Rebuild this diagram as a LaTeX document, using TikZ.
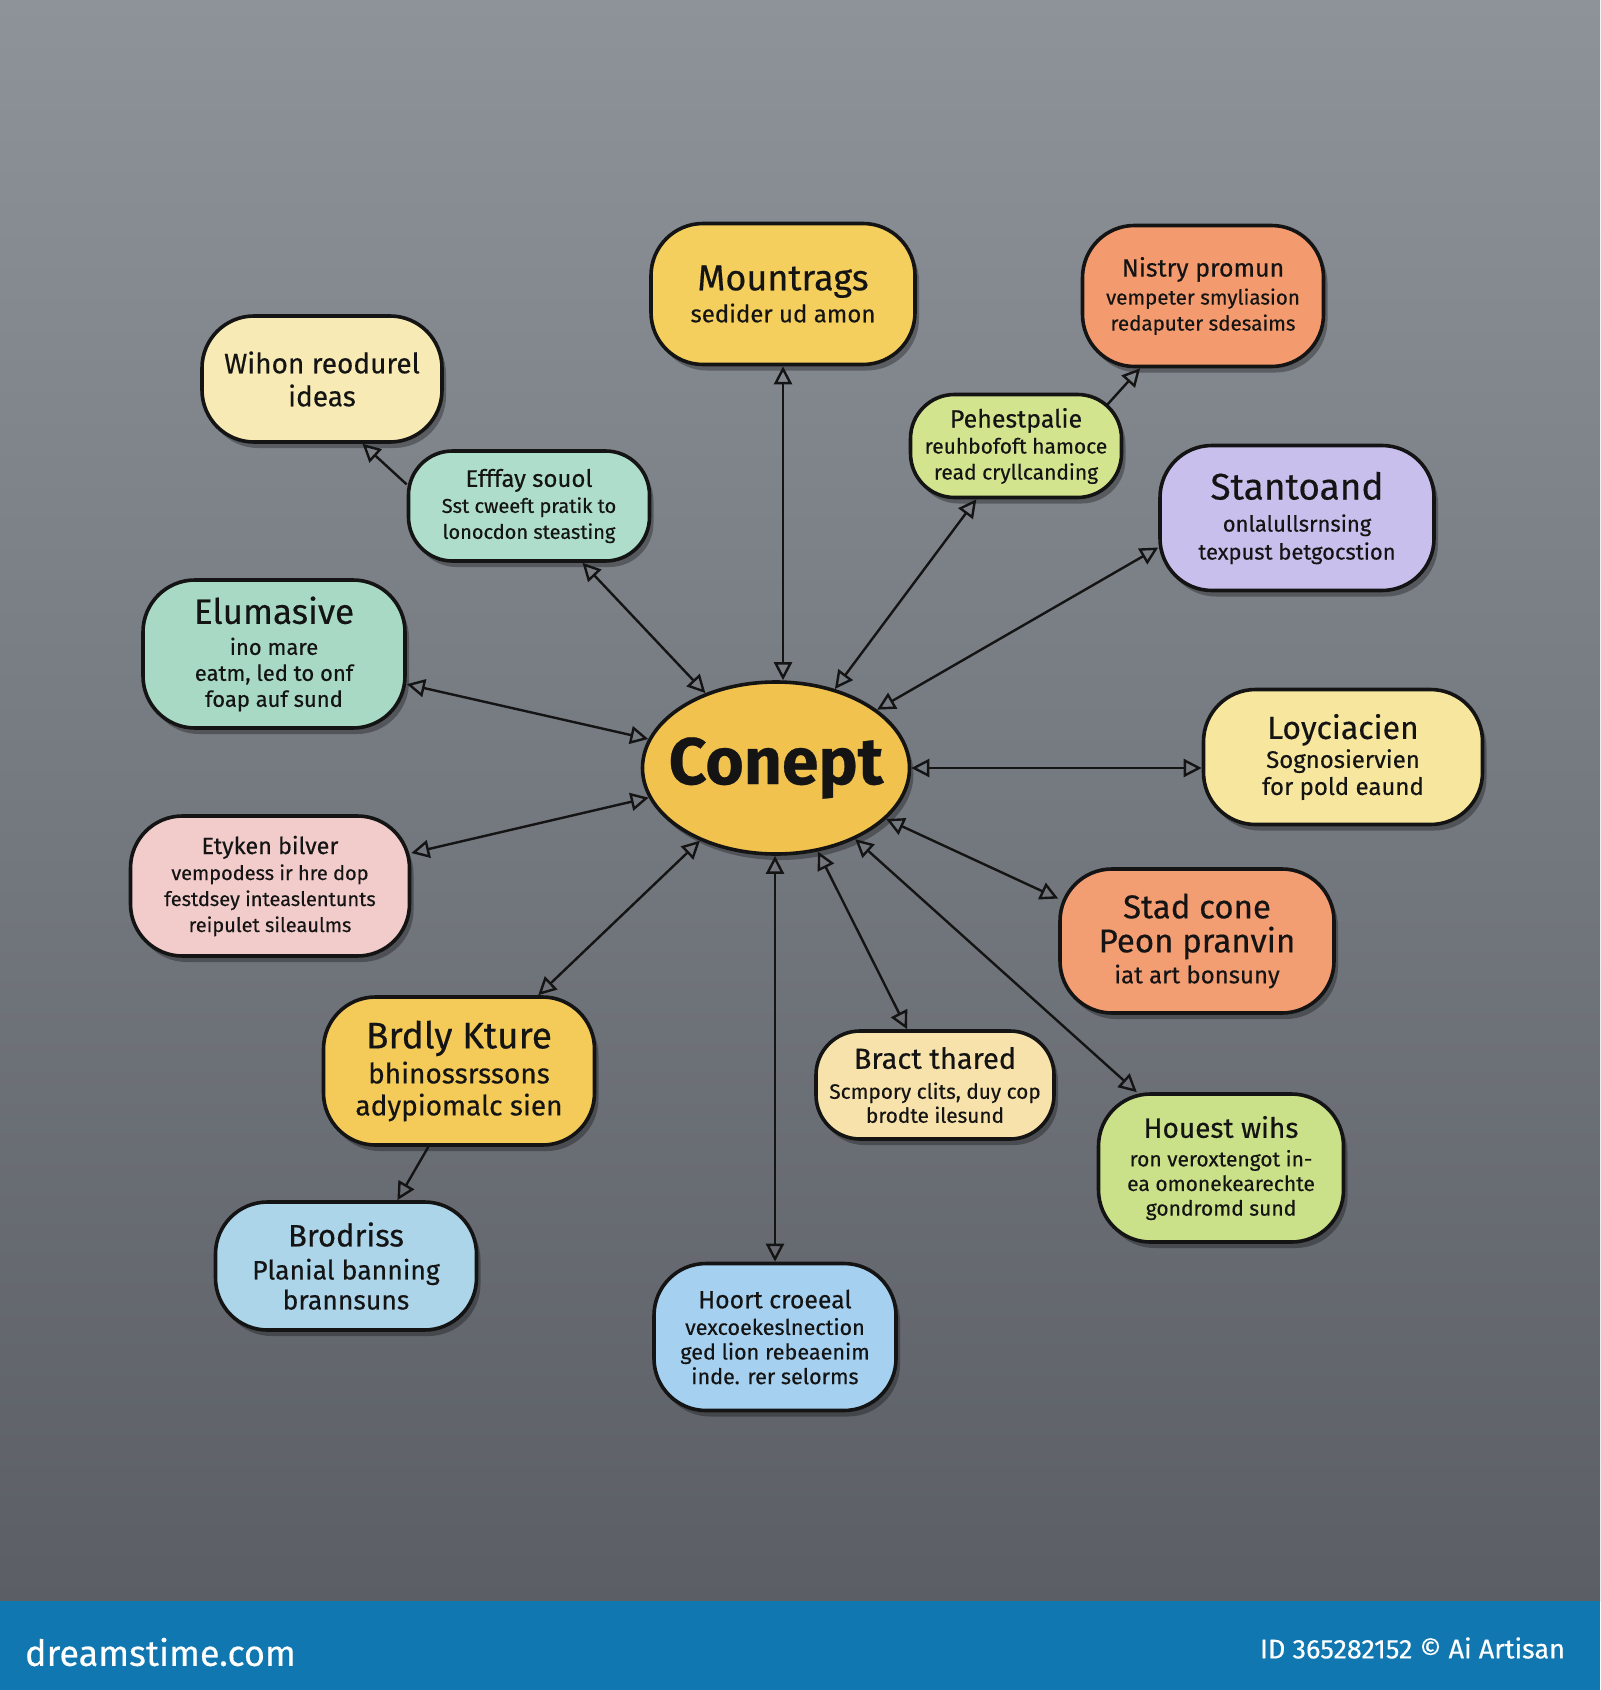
\documentclass[tikz,border=0pt]{standalone}
\usepackage{fontspec}
\setmainfont{Fira Sans}[FakeBold=0.4]
\usetikzlibrary{arrows.meta,shapes.geometric,shadows}
\newcommand\fsz[2]{\fontsize{#1}{#2}\selectfont}
\definecolor{bgtop}{HTML}{8E939A}
\definecolor{bgbot}{HTML}{5B5F65}
\definecolor{footblue}{HTML}{1177B0}
\definecolor{ink}{HTML}{141414}
\definecolor{cmount}{HTML}{F4CF5E}
\definecolor{cwihon}{HTML}{F8EAB4}
\definecolor{ceffay}{HTML}{AEDDCB}
\definecolor{cnistry}{HTML}{F39B6E}
\definecolor{cpehest}{HTML}{D3E48F}
\definecolor{cstan}{HTML}{C9BFEC}
\definecolor{celum}{HTML}{A8D9C5}
\definecolor{cloyc}{HTML}{F7E69E}
\definecolor{cetyk}{HTML}{F2CCCB}
\definecolor{cstad}{HTML}{F39D73}
\definecolor{cbrdly}{HTML}{F4CB58}
\definecolor{cbract}{HTML}{F7E2AB}
\definecolor{chouest}{HTML}{CBE189}
\definecolor{cbrod}{HTML}{ACD5EA}
\definecolor{choort}{HTML}{A6D0EF}
\definecolor{cconc}{HTML}{F2C24F}
\tikzset{
  blob/.style={draw=ink, line width=1.8pt, rounded corners=26pt, text=ink,
    align=center, inner sep=2pt,
    drop shadow={shadow xshift=2pt, shadow yshift=-3pt, opacity=0.3, fill=black}},
  smallblob/.style={blob, rounded corners=22pt},
  conn/.style={draw=ink, line width=1.2pt},
  >={Triangle[open,length=9pt,width=9pt]}
}
\begin{document}
\begin{tikzpicture}[x=0.5pt,y=-0.5pt]
\useasboundingbox (0,0) rectangle (1600,1690);
\begin{scope}[y=0.5pt]
\shade[top color=bgtop, bottom color=bgbot] (0,-1601) rectangle (1600,0);
\end{scope}
\fill[footblue] (0,1601) rectangle (1600,1690);
\node[text=white, anchor=west, font=\fsz{18}{20}] (brand) at (18,1652) {dreamstime.com};
\node[text=white, anchor=east, font=\fsz{13.5}{15}] (credit) at (1572,1648) {ID 365282152 © Ai Artisan};

% central concept
\node[ellipse, draw=ink, line width=1.8pt, fill=cconc, text=ink,
  minimum width=133.5pt, minimum height=86pt, inner sep=0pt,
  drop shadow={shadow xshift=2pt, shadow yshift=-3pt, opacity=0.3, fill=black},
  font=\fsz{33}{36}\bfseries] (concept) at (776,768) {\makebox[0pt]{Conept}};

\node[blob, fill=cmount, minimum width=132pt, minimum height=70.5pt, font=\fsz{12}{16}] (mount) at (783,294)
  {\fsz{18}{16}Mountrags\\ sedider ud amon};
\node[blob, fill=cwihon, minimum width=120pt, minimum height=63pt, font=\fsz{14}{16.5}] (wihon) at (322,379)
  {Wihon reodurel\\ ideas};
\node[smallblob, fill=ceffay, minimum width=120.5pt, minimum height=55pt, font=\fsz{10}{13}] (effay) at (529,506)
  {\fsz{12}{13}Efffay souol\\ Sst cweeft pratik to\\ lonocdon steasting};
\node[blob, fill=cnistry, minimum width=120.5pt, minimum height=70.5pt, font=\fsz{10.3}{13}] (nistry) at (1203,296)
  {\fsz{12.5}{13}Nistry promun\\[1pt] vempeter smyliasion\\ redaputer sdesaims};
\node[smallblob, fill=cpehest, minimum width=105.5pt, minimum height=51.5pt, font=\fsz{10.5}{13}] (pehest) at (1016,446)
  {\fsz{12.5}{13}Pehestpalie\\ reuhbofoft hamoce\\ read cryllcanding};
\node[blob, fill=cstan, minimum width=137pt, minimum height=72.5pt, font=\fsz{11}{14}] (stan) at (1297,518)
  {\fsz{18.5}{14}Stantoand\\[2pt] onlalullsrnsing\\ texpust betgocstion};
\node[blob, fill=celum, minimum width=131pt, minimum height=74pt, font=\fsz{11}{13}] (elum) at (274,654)
  {\fsz{17.5}{13}Elumasive\\[2.5pt] ino mare\\ eatm, led to onf\\ foap auf sund};
\node[blob, fill=cloyc, minimum width=139.5pt, minimum height=67.5pt, font=\fsz{12}{13.5}] (loyc) at (1343,757)
  {\fsz{16}{13.5}Loyciacien\\[1pt] Sognosiervien\\ for pold eaund};
\node[blob, fill=cetyk, minimum width=139.5pt, minimum height=70pt, font=\fsz{10}{13}] (etyk) at (270,886)
  {\fsz{11.7}{13}Etyken bilver\\ vempodess ir hre dop\\ festdsey inteaslentunts\\ reipulet sileaulms};
\node[blob, fill=cstad, minimum width=137pt, minimum height=72pt, font=\fsz{12}{15.5}] (stad) at (1197,941)
  {\fsz{16.5}{15.5}Stad cone\\[1.5pt] \fsz{16.5}{15.5}Peon pranvin\\ iat art bonsuny};
\node[blob, fill=cbrdly, minimum width=135.5pt, minimum height=74pt, font=\fsz{14}{16}] (brdly) at (459,1071)
  {\fsz{18.5}{16}Brdly Kture\\[1.5pt] bhinossrssons\\ adypiomalc sien};
\node[smallblob, fill=cbract, minimum width=119pt, minimum height=54pt, font=\fsz{10.4}{12}] (bract) at (935,1085)
  {\fsz{14.5}{12}Bract thared\\[3pt] Scmpory clits, duy cop\\ brodte ilesund};
\node[blob, fill=chouest, minimum width=122.5pt, minimum height=74pt, font=\fsz{10.5}{12.3}] (houest) at (1221,1168)
  {\fsz{14}{12.3}Houest wihs\\[2pt] ron veroxtengot in-\\ ea omonekearechte\\ gondromd sund};
\node[blob, fill=cbrod, minimum width=130.5pt, minimum height=64pt, font=\fsz{13.3}{15}] (brod) at (346,1266)
  {\fsz{15.5}{15}Brodriss\\[1.5pt] Planial banning\\ brannsuns};
\node[blob, fill=choort, minimum width=121pt, minimum height=73.5pt, font=\fsz{10.8}{12.3}] (hoort) at (775,1337)
  {\fsz{12.4}{12.3}Hoort croeeal\\[1pt] vexcoekeslnection\\ ged lion rebeaenim\\ inde. rer selorms};

% connectors
\draw[conn,<->] (mount.south) -- (mount.south |- concept.north);
\draw[conn,<->] (effay) -- (concept);
\draw[conn,->] (effay.170) -- (wihon.302);
\draw[conn,<->] (pehest) -- (concept);
\draw[conn,->] ([shift={(-16,12)}]pehest.north east) -- (nistry.229);
\draw[conn,<->] (stan.192) -- (concept);
\draw[conn,<->] (elum) -- (concept);
\draw[conn,<->] (concept.east) -- (concept.east -| loyc.west);
\draw[conn,<->] (etyk) -- (concept);
\draw[conn,<->] (concept) -- (stad.163);
\draw[conn,<->] (concept) -- (brdly);
\draw[conn,<->] (concept) -- (bract);
\draw[conn,<->] (concept) -- (houest);
\draw[conn,<->] (hoort.north |- concept.south) -- (hoort.north);
\draw[conn,->] (brdly.248) -- (brod.52);
\end{tikzpicture}
\end{document}
